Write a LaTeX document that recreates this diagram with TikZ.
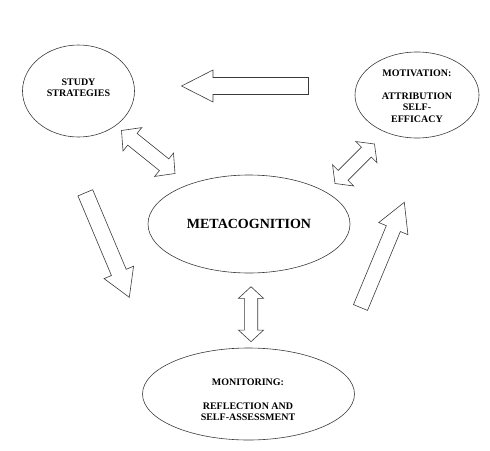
\documentclass[tikz,border=0pt]{standalone}
\usepackage{fontspec}
\setmainfont{Liberation Serif}
\usepackage{tikz}
\usetikzlibrary{shapes.geometric, calc}
\definecolor{InkGray}{HTML}{3A3A3A}

\tikzset{
  blob/.style={ellipse, draw=InkGray, line width=0.6pt, inner sep=0pt},
  caption/.style={font=\bfseries\fontsize{10}{11.6}\selectfont, align=center, inner sep=0pt},
  fatline/.style={draw=InkGray, line width=0.6pt, line join=miter}
}

\newcommand{\fatarrow}[5]{%
  \coordinate (hb) at ($(#2)!#5!(#1)$);
  \draw[fatline] ($(#1)!#3!90:(#2)$) -- ($(hb)!#3!90:(#2)$) -- ($(hb)!#4!90:(#2)$) -- (#2)
    -- ($(hb)!#4!-90:(#2)$) -- ($(hb)!#3!-90:(#2)$) -- ($(#1)!#3!-90:(#2)$) -- cycle;}
\newcommand{\fatboth}[5]{%
  \coordinate (ha) at ($(#1)!#5!(#2)$);
  \coordinate (hb) at ($(#2)!#5!(#1)$);
  \draw[fatline] (#1) -- ($(ha)!#4!90:(#2)$) -- ($(ha)!#3!90:(#2)$) -- ($(hb)!#3!90:(#2)$)
    -- ($(hb)!#4!90:(#2)$) -- (#2) -- ($(hb)!#4!-90:(#2)$) -- ($(hb)!#3!-90:(#2)$)
    -- ($(ha)!#3!-90:(#2)$) -- ($(ha)!#4!-90:(#2)$) -- cycle;}

\begin{document}
\begin{tikzpicture}[x=1pt, y=-1pt]
      \useasboundingbox (0,0) rectangle (490,450);
      \node[blob, minimum width=112pt, minimum height=92pt] (study) at (78.5,91) {};
      \node[blob, minimum width=124pt, minimum height=86pt] (motiv) at (417,95) {};
      \node[blob, minimum width=202pt, minimum height=98pt] (meta) at (249,224) {};
      \node[blob, minimum width=212pt, minimum height=92pt] (monit) at (248.5,394) {};
      \node[caption] (studytext) at (78.5,87.7) {STUDY\\STRATEGIES};
      \node[caption] (motivtext) at (417,96) {MOTIVATION:\\[11.5pt]ATTRIBUTION\\SELF-\\EFFICACY};
      \node[caption, font=\bfseries\fontsize{14}{16}\selectfont] (metatext) at (249,223.8) {METACOGNITION};
      \node[caption] (monittext) at (248,399.8) {MONITORING:\\[12pt]REFLECTION AND\\SELF-ASSESSMENT};
      \coordinate (motiv-out) at (308.5,86);
      \coordinate (study-in) at (181.5,86);
      \coordinate (study-meta) at (121.5,130.5);
      \coordinate (meta-study) at (175,173.5);
      \coordinate (meta-motiv) at (335,183.5);
      \coordinate (motiv-meta) at (374.5,144);
      \coordinate (study-out) at (85.3,192.8);
      \coordinate (monit-in) at (129.3,297.3);
      \coordinate (monit-out) at (360.5,307.5);
      \coordinate (motiv-in) at (404.3,202.3);
      \coordinate (meta-monit) at (251,286.7);
      \coordinate (monit-meta) at (251,341.7);
      \fatarrow{motiv-out}{study-in}{8.5pt}{16pt}{31.5pt}
      \fatarrow{study-out}{monit-in}{8pt}{16pt}{27pt}
      \fatarrow{monit-out}{motiv-in}{7.6pt}{15.8pt}{28.5pt}
      \fatboth{study-meta}{meta-study}{7.5pt}{15pt}{14pt}
      \fatboth{meta-motiv}{motiv-meta}{7pt}{15pt}{11.5pt}
      \fatboth{meta-monit}{monit-meta}{6.7pt}{12.5pt}{11.6pt}
    \end{tikzpicture}
\end{document}
